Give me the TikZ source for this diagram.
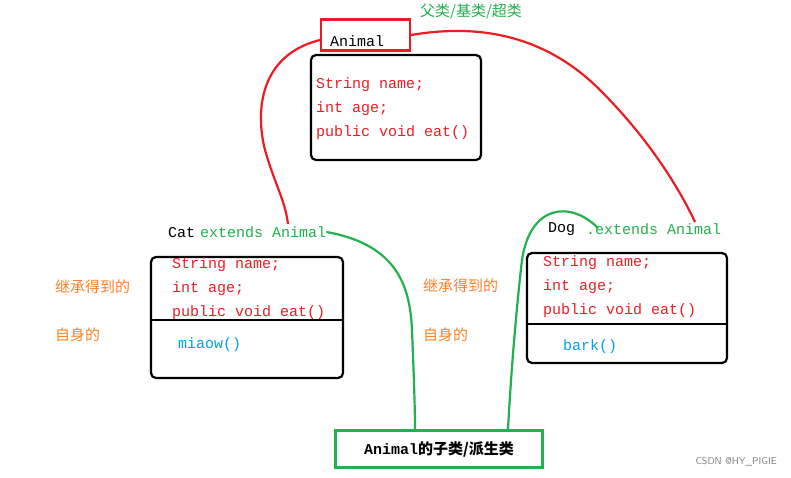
\documentclass[tikz,border=0pt]{standalone}
\usepackage{fontspec}
\setmonofont{Liberation Mono}
\newfontfamily\cjk{Noto Sans CJK SC}
\definecolor{rd}{RGB}{237,28,36}
\definecolor{gr}{RGB}{34,177,76}
\definecolor{og}{RGB}{255,127,39}
\definecolor{bl}{RGB}{0,162,232}
\begin{document}
\begin{tikzpicture}[x=1pt,y=-1pt,
  cls/.style={draw=black,line width=2.2pt,rounded corners=5pt},
  code/.style={anchor=west,inner sep=0pt,font=\ttfamily\fontsize{15}{15}\selectfont},
  cn/.style={anchor=west,inner sep=0pt,font=\cjk\fontsize{15}{15}\selectfont},
  crv/.style={line width=2.2pt}]
\useasboundingbox (0,0) rectangle (791,477);
\fill[white] (0,0) rectangle (791,477);
% Animal
\node[draw=rd,line width=2.2pt,minimum width=89pt,minimum height=31pt,inner sep=0pt] (an) at (365.5,35) {};
\node[code,text=black] (ant) at (330,41) {Animal};
\node[cn,text=gr] (sup) at (420,12) {父类/基类/超类};
\draw[cls] (311,55) rectangle (481,160);
\node[code,text=rd] (a1) at (316,85) {String name;};
\node[code,text=rd] (a2) at (316,109) {int age;};
\node[code,text=rd] (a3) at (316,133) {public void eat()};
% Cat
\node[code,text=black] (cat) at (168,233) {Cat};
\node[code,text=gr] (ce) at (200,232) {extends Animal};
\draw[cls] (151,257) rectangle (343,378);
\draw[line width=2.2pt] (151,320) -- (343,320);
\node[code,text=rd] (c1) at (172,265) {String name;};
\node[code,text=rd] (c2) at (172,289) {int age;};
\node[code,text=rd] (c3) at (172,313) {public void eat()};
\node[code,text=bl] (c4) at (178,345) {miaow()};
\node[cn,text=og] (o1) at (55,287) {继承得到的};
\node[cn,text=og] (o2) at (55,335) {自身的};
% Dog
\node[code,text=black] (dog) at (548,229) {Dog};
\node[code,text=gr] (de) at (586,229) {.extends Animal};
\draw[cls] (527,253) rectangle (727,363);
\draw[line width=2.2pt] (527,324) -- (727,324);
\node[code,text=rd] (d1) at (543,263) {String name;};
\node[code,text=rd] (d2) at (543,287) {int age;};
\node[code,text=rd] (d3) at (543,311) {public void eat()};
\node[code,text=bl] (d4) at (563,347) {bark()};
\node[cn,text=og] (o3) at (423,286) {继承得到的};
\node[cn,text=og] (o4) at (423,335) {自身的};
% subclass box
\node[draw=gr,line width=2.5pt,minimum width=207pt,minimum height=37pt,inner sep=0pt,
  font=\bfseries\fontsize{15}{15}\selectfont] (sub) at (439,449) {\texttt{\textbf{Animal}}{\cjk\bfseries 的子类/派生类}};
% curves
\draw[crv,rd] (an.west) ++(0,5) .. controls (260,55) and (255,110) .. (265,150) .. controls (275,185) and (285,200) .. (288,224);
\draw[crv,rd] (an.east) ++(0,0) .. controls (470,25) and (540,30) .. (600,90) .. controls (650,140) and (680,190) .. (695,222);
\draw[crv,gr] (ce.east) .. controls (400,245) and (410,290) .. (412,330) .. controls (414,380) and (415,410) .. (sub.north -| 415,0);
\draw[crv,gr] (598,228) .. controls (570,200) and (530,205) .. (522,260) .. controls (515,320) and (510,390) .. (sub.north -| 508,0);
\node[anchor=east,inner sep=0pt,text=gray,font=\sffamily\fontsize{10}{10}\selectfont] (wm) at (777,462) {CSDN @HY\_PIGIE};
\end{tikzpicture}
\end{document}
